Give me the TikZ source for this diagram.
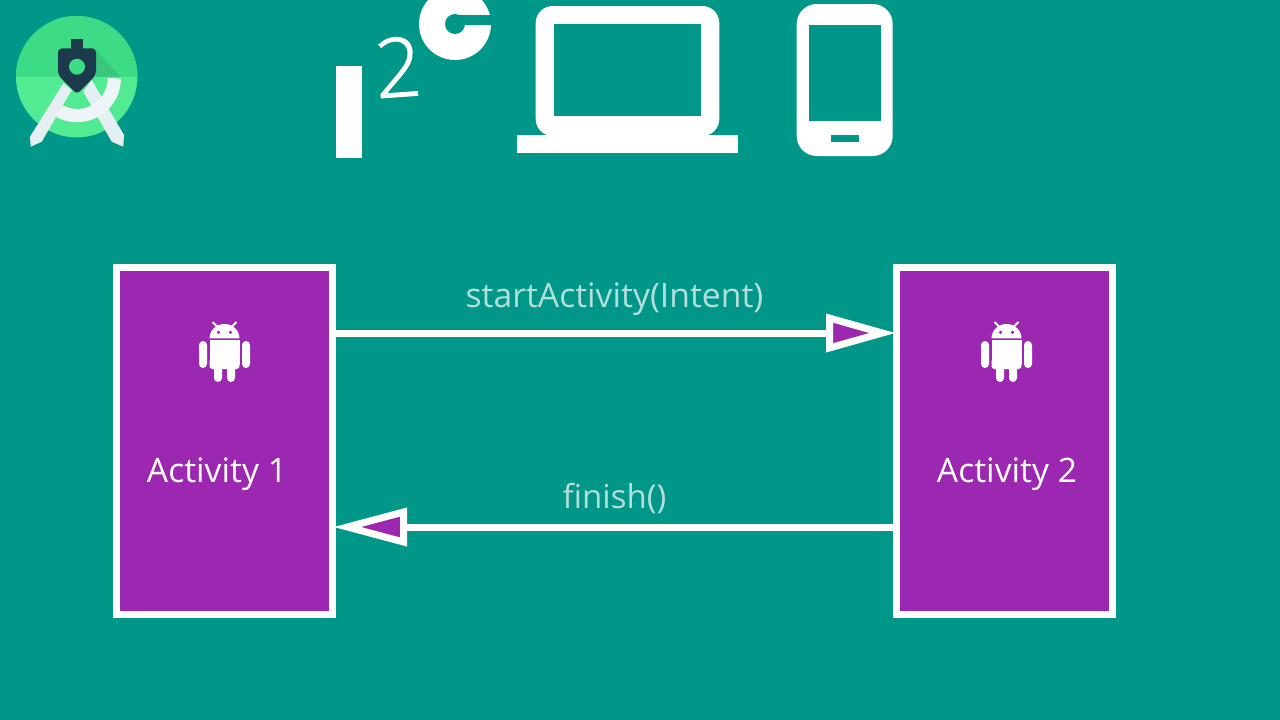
\documentclass[tikz,border=0pt]{standalone}
\usepackage{fontspec}
\setmainfont{Open Sans}
\newfontfamily\thinfont[FakeBold=1.2]{Open Sans Light}
\usetikzlibrary{arrows.meta}
\definecolor{bgteal}{HTML}{009688}
\definecolor{actpurple}{HTML}{9C27B0}
\definecolor{labelteal}{HTML}{B2DFDB}
\definecolor{logoup}{HTML}{3DDB85}
\definecolor{logolow}{HTML}{52EB94}
\definecolor{logoshade}{HTML}{38C77C}
\definecolor{logodark}{HTML}{1B3A4B}
\definecolor{logoleg}{HTML}{E4EEF3}
\definecolor{logoarc}{HTML}{EEF5F8}
\tikzstyle{activity}  = [rectangle, draw=white, line width=7pt, fill=actpurple, minimum width=216pt, minimum height=347pt, inner sep=0pt]
\tikzstyle{acttext}   = [text=white, font=\fontsize{33.7}{38}\selectfont]
\tikzstyle{calltext}  = [text=labelteal, font=\fontsize{33.7}{38}\selectfont, inner sep=0pt]
\tikzstyle{arrow}     = [draw=white, line width=7pt, shorten >=-3pt, -{Triangle[length=70pt,width=37pt,line width=7pt,fill=actpurple]}]
\tikzstyle{backarrow} = [draw=white, line width=7pt, shorten >=-3pt, -{Triangle[length=74pt,width=37pt,line width=7pt,fill=actpurple]}]
\tikzset{androidbot/.pic={
    \fill[white] (-15,-13.7) arc[start angle=180,end angle=360,x radius=15,y radius=14.3] -- cycle;
    \fill[white] (-15,-12) rectangle (15,12);
    \fill[white,rounded corners=3pt] (-15,6) rectangle (15,17);
    \fill[white,rounded corners=4pt] (-25.5,-11) rectangle (-17.5,16);
    \fill[white,rounded corners=4pt] (17.5,-11) rectangle (25.5,16);
    \fill[white,rounded corners=4pt] (-10.5,10) rectangle (-2.5,30);
    \fill[white,rounded corners=4pt] (2.5,10) rectangle (10.5,30);
    \draw[white,line width=2pt] (-12,-30) -- (-6,-24) (12,-30) -- (6,-24);
    \fill[actpurple] (-6,-19.7) circle (1.8) (6,-19.7) circle (1.8);
}}

\begin{document}
\begin{tikzpicture}[x=1pt,y=-1pt]
    \clip (0,0) rectangle (1280,720);
    \fill[bgteal] (0,0) rectangle (1280,720);

    % logo
    \fill[logolow] (76.7,76.7) circle (60.7);
    \fill[logoup] (137.4,76.7) arc[start angle=0,end angle=-180,radius=60.7] -- cycle;
    \fill[logoshade] (96,50) -- (120,76.7) -- (96,76.7) -- cycle;
    \fill[logoleg] (91.7,80) -- (124,135) -- (123.3,146.7) -- (111.7,141.7) -- (83.3,91.7) -- cycle;
    \draw[logoarc,line width=13.3pt] (114.3,78.3) arc[start angle=0,end angle=125,radius=37.3];
    \fill[logoleg] (63.3,83.3) -- (71.7,90) -- (41.7,141.7) -- (30.7,146.7) -- (30,136.7) -- cycle;
    \fill[logodark] (70.7,38.7) rectangle (83.3,50);
    \fill[logodark,rounded corners=4pt] (58,48.3) -- (96,48.3) -- (96,75) -- (77,94.3) -- (58,75) -- cycle;
    \fill[logoup] (77,66.7) circle (8);

    % i2c
    \fill[white] (336,66) rectangle (362,158);
    \node[text=white, font=\fontsize{82}{90}\thinfont, rotate=4, inner sep=0pt] (two) at (398,67) {2};
    \fill[white] (455,24) circle (36);
    \fill[bgteal] (455,24) circle (10);
    \fill[bgteal] (455,15) rectangle (495,24.7);

    % laptop
    \fill[white,rounded corners=17pt] (535.7,6) rectangle (719.3,136);
    \fill[bgteal] (553.7,24.3) rectangle (701,116.3);
    \fill[white] (517.3,135) rectangle (738,153);

    % phone
    \fill[white,rounded corners=20pt] (796.7,4) rectangle (892.7,156);
    \fill[bgteal] (808.7,25) rectangle (881,121);
    \fill[bgteal] (831.3,135.3) rectangle (858.7,142);

    \node[activity] (act1) at (224.5,441) {};
    \node[activity] (act2) at (1004.5,441) {};
    \pic at (224.5,352) {androidbot};
    \pic at (1006.5,352) {androidbot};
    \node[acttext] (name1) at (217,474) {Activity 1};
    \node[acttext] (name2) at (1007,474) {Activity 2};

    \draw[arrow] ([yshift=108pt]act1.east) -- node[calltext, above=14pt] (start) {startActivity(Intent)} ([yshift=108pt]act2.west);
    \draw[backarrow] ([yshift=-86pt]act2.west) -- node[calltext, above=10pt, font=\fontsize{33}{38}\selectfont] (finish) {finish()} ([yshift=-86pt]act1.east);
\end{tikzpicture}
\end{document}
